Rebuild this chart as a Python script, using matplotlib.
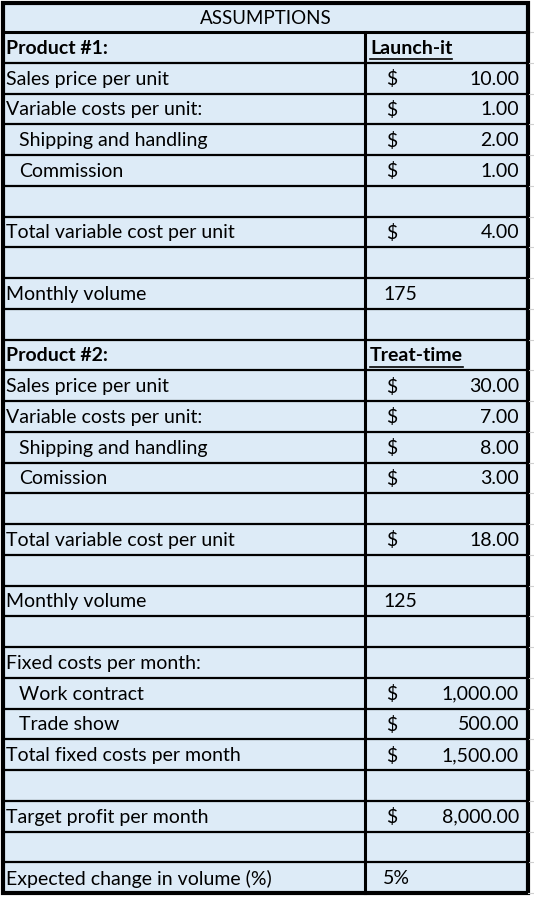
import matplotlib.pyplot as plt
from matplotlib.patches import Rectangle

labels = ["Product #1:", "Sales price per unit", "Variable costs per unit:",
          "  Shipping and handling", "  Commission", "",
          "Total variable cost per unit", "", "Monthly volume", "",
          "Product #2:", "Sales price per unit", "Variable costs per unit:",
          "  Shipping and handling", "  Comission", "",
          "Total variable cost per unit", "", "Monthly volume", "",
          "Fixed costs per month:", "  Work contract", "  Trade show",
          "Total fixed costs per month", "", "Target profit per month", "",
          "Expected change in volume (%)"]
# (kind, text): 'h' = underlined header, '$' = currency, 'n' = plain
values = [("h", "Launch-it"), ("$", "10.00"), ("$", "1.00"), ("$", "2.00"), ("$", "1.00"),
          None, ("$", "4.00"), None, ("n", "175"), None,
          ("h", "Treat-time"), ("$", "30.00"), ("$", "7.00"), ("$", "8.00"), ("$", "3.00"),
          None, ("$", "18.00"), None, ("n", "125"), None,
          None, ("$", "1,000.00"), ("$", "500.00"), ("$", "1,500.00"), None,
          ("$", "8,000.00"), None, ("n", "5%")]
bold_rows = [0, 10]

W, H = 534, 900
fig = plt.figure(figsize=(W / 100, H / 100), dpi=100)
ax = fig.add_axes([0, 0, 1, 1])
ax.set_xlim(0, W)
ax.set_ylim(H, 0)
ax.axis('off')
plt.rcParams['font.family'] = ['Lato', 'DejaVu Sans']
fs = 14

top, rh, left, right, mid = 32, 30.75, 3, 528, 365
bottom = top + rh * len(labels)
fill = '#DDEBF7'

# white strip with faint gridlines on the right
for i in range(len(labels) + 2):
    y = top + rh * i
    ax.plot([right, W], [y, y], color='#d0d0d0', lw=0.8)
ax.add_patch(Rectangle((left, 3), right - left, bottom - 3, facecolor=fill, edgecolor='none'))

ax.text((left + right) / 2, 18, "ASSUMPTIONS", ha='center', va='center', fontsize=13.5)
ax.plot([left, right], [top, top], color='black', lw=2.2)
ax.plot([mid, mid], [top, bottom], color='black', lw=2.2)
for i in range(1, len(labels)):
    y = top + rh * i
    ax.plot([left, right], [y, y], color='black', lw=1.6)
ax.add_patch(Rectangle((left, 3), right - left, bottom - 3, facecolor='none', edgecolor='black', lw=3))

fig.canvas.draw()
r = fig.canvas.get_renderer()
for i, lab in enumerate(labels):
    yc = top + rh * (i + 0.5) + 1
    if lab:
        x = 19 if lab.startswith("  ") else 6
        ax.text(x, yc, lab.strip(), ha='left', va='center', fontsize=fs,
                fontweight='bold' if i in bold_rows else 'normal')
    v = values[i]
    if v is None:
        continue
    kind, txt = v
    if kind == "h":
        t = ax.text(370, yc, txt, ha='left', va='center', fontsize=fs, fontweight='bold')
        bb = t.get_window_extent(r).transformed(ax.transData.inverted())
        ax.plot([bb.x0, bb.x1], [yc + 11, yc + 11], color='black', lw=1.2)
    elif kind == "$":
        ax.text(386, yc, "$", ha='left', va='center', fontsize=fs)
        ax.text(519, yc, txt, ha='right', va='center', fontsize=fs)
    else:
        ax.text(383, yc, txt, ha='left', va='center', fontsize=fs)

fig.savefig('out.png', dpi=100)
